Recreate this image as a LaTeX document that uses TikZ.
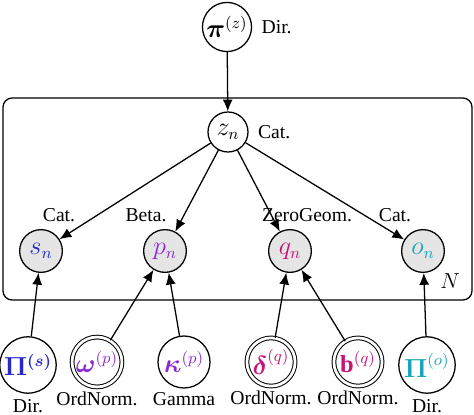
\documentclass[tikz,border=0pt]{standalone}
\usepackage{amsmath}
\usepackage{amssymb}
\usepackage{fontspec}
\setmainfont{Liberation Serif}
\usepackage{xcolor}
\usepackage{tikz}
\usetikzlibrary{shapes,arrows.meta,positioning,calc}

\definecolor{scol}{RGB}{40,40,200}
\definecolor{pcol}{RGB}{140,40,210}
\definecolor{qcol}{RGB}{200,20,120}
\definecolor{ocol}{RGB}{20,165,185}

\begin{document}
\begin{tikzpicture}[
    x=0.55pt, y=-0.55pt,
    node distance=1pt and 4pt,
    lat/.style={circle, draw, line width=0.7pt, inner sep=0.5pt, minimum size=22pt, font=\fontsize{13.5}{16}\selectfont},
    obs/.style={lat, fill=gray!20, minimum size=23.5pt},
    prior/.style={lat, minimum size=28.6pt},
    dprior/.style={prior, line width=0.55pt, double, double distance=1.5pt, minimum size=26.5pt},
    bigprior/.style={prior, minimum size=31pt},
    lbl/.style={inner sep=1pt, font=\fontsize{10.8}{13}\selectfont},
    arr/.style={-{Latex[length=6.5pt,width=5.5pt]}, line width=0.7pt}
]
    \useasboundingbox (0,0) rectangle (474,415);

    % plate
    \draw [line width=0.7pt, rounded corners=5pt] (3,98) rectangle (472,300);
    \node [lbl, font=\fontsize{12}{14}\selectfont] (plN) at (450,281) {$N$};

    % latent
    \node [lat, minimum size=26.4pt] (pz) at (227,27) {$\boldsymbol{\pi}^{(z)}$};
    \node [lbl, right=of pz] (pzl) {Dir.};
    \node [lat] (zn) at (228,132) {$z_n$};
    \node [lbl, right=of zn] (znl) {Cat.};

    % observed
    \node [obs] (sn) at (41,251) {$\color{scol}s_n$};
    \node [obs] (pn) at (165,251) {$\color{pcol}p_n$};
    \node [obs] (qn) at (290,251) {$\color{qcol}q_n$};
    \node [obs] (on) at (423,251) {$\color{ocol}o_n$};
    \node [lbl] (snl) at (59,215) {Cat.};
    \node [lbl] (pnl) at (146,215) {Beta.};
    \node [lbl] (qnl) at (307,215) {ZeroGeom.};
    \node [lbl] (onl) at (395,215) {Cat.};

    % priors
    \node [bigprior] (Ps) at (28,365) {$\color{scol}\boldsymbol{\Pi^{(s)}}$};
    \node [dprior] (wp) at (97,362) {$\color{pcol}\boldsymbol{\omega}^{(p)}$};
    \node [prior] (kp) at (184,362) {$\color{pcol}\boldsymbol{\kappa}^{(p)}$};
    \node [dprior] (dq) at (271,362) {$\color{qcol}\boldsymbol{\delta}^{(q)}$};
    \node [dprior] (bq) at (358,362) {$\color{qcol}\mathbf{b}^{(q)}$};
    \node [bigprior] (Po) at (427,365) {$\color{ocol}\boldsymbol{\Pi}^{(o)}$};
    \node [lbl, below=2pt of Ps] (Psl) {Dir.};
    \node [lbl, below=of wp] (wpl) {OrdNorm.};
    \node [lbl, below=of kp] (kpl) {Gamma};
    \node [lbl, below=of dq] (dql) {OrdNorm.};
    \node [lbl, below=of bq] (bql) {OrdNorm.};
    \node [lbl, below=2pt of Po] (Pol) {Dir.};

    \draw [arr] (pz) -- (zn);
    \foreach \t in {sn,pn,qn,on}
        \draw [arr] (zn) -- (\t);
    \draw [arr] (Ps) -- (sn);
    \draw [arr] (wp) -- (pn);
    \draw [arr] (kp) -- (pn);
    \draw [arr] (dq) -- (qn);
    \draw [arr] (bq) -- (qn);
    \draw [arr] (Po) -- (on);
\end{tikzpicture}
\end{document}
